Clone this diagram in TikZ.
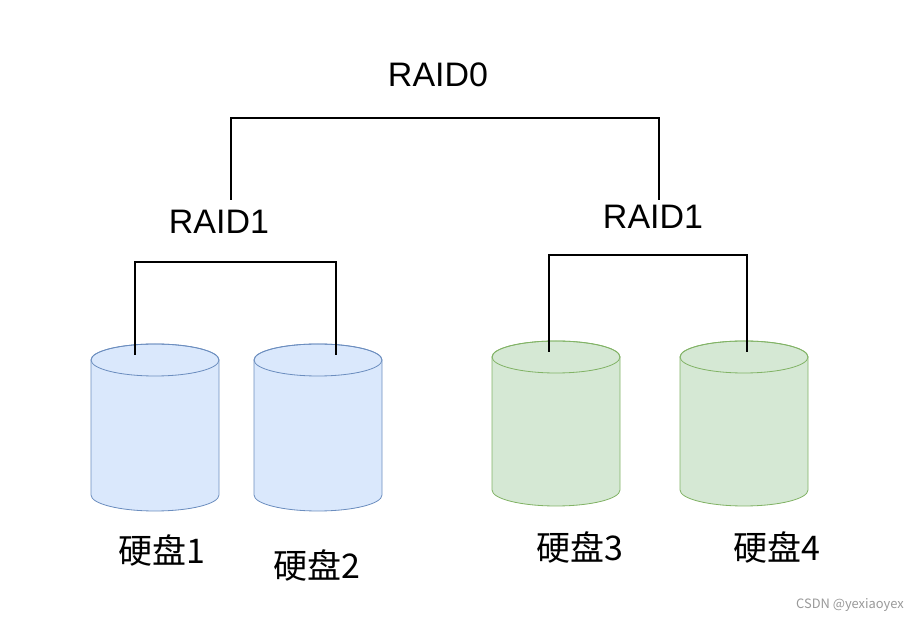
\documentclass[tikz,border=0pt]{standalone}
\usepackage{fontspec}
\setmainfont{Liberation Sans}
\newfontfamily\cjk{Noto Sans CJK SC}
\definecolor{bluefill}{HTML}{DAE8FC}
\definecolor{blueline}{HTML}{6C8EBF}
\definecolor{greenfill}{HTML}{D5E8D4}
\definecolor{greenline}{HTML}{82B366}
\tikzset{
  lbl/.style={font=\fontsize{29}{33}\selectfont},
  hd/.style={font=\cjk\fontsize{29}{33}\selectfont},
  link/.style={line width=1.2pt}
}
% disk: name, centre x, top y, bottom y, colour prefix
\newcommand{\disk}[5]{%
  \filldraw[fill=#5fill, draw=#5line, line width=0.7pt]
    (#2-64,#3) -- (#2-64,#4) arc (180:360:64 and 16) -- (#2+64,#3) arc (0:180:64 and 16) -- cycle;
  \draw[#5line, line width=0.7pt] (#2,#3) ellipse (64 and 16);
  \coordinate (#1) at (#2,#3);}
\begin{document}
\begin{tikzpicture}[x=0.03cm,y=0.03cm]
\useasboundingbox (0,0) rectangle (908,624);
% labels
\node[lbl] (r0) at (438,549) {RAID0};
\node[lbl] (r1a) at (219,402) {RAID1};
\node[lbl] (r1b) at (653,407) {RAID1};
% the disks
\disk{d1}{155}{264}{129}{blue}
\disk{d2}{318}{264}{129}{blue}
\disk{d3}{556}{267}{134}{green}
\disk{d4}{744}{267}{134}{green}
\node[hd] (h1) at (162,74) {硬盘1};
\node[hd] (h2) at (317,59) {硬盘2};
\node[hd] (h3) at (580,77) {硬盘3};
\node[hd] (h4) at (777,77) {硬盘4};
% brackets
\draw[link] (231,424) -- (231,506) -- (659,506) -- (659,424);
\draw[link] ([xshift=-20*0.03cm,yshift=5*0.03cm]d1) -- (135,362) -- (336,362) -- ([xshift=18*0.03cm,yshift=5*0.03cm]d2);
\draw[link] ([xshift=-7*0.03cm,yshift=5*0.03cm]d3) -- (549,369) -- (747,369) -- ([xshift=3*0.03cm,yshift=5*0.03cm]d4);
\node[text=gray!80, font=\cjk\fontsize{11}{13}\selectfont] at (850,19) {CSDN @yexiaoyex};
\end{tikzpicture}
\end{document}
